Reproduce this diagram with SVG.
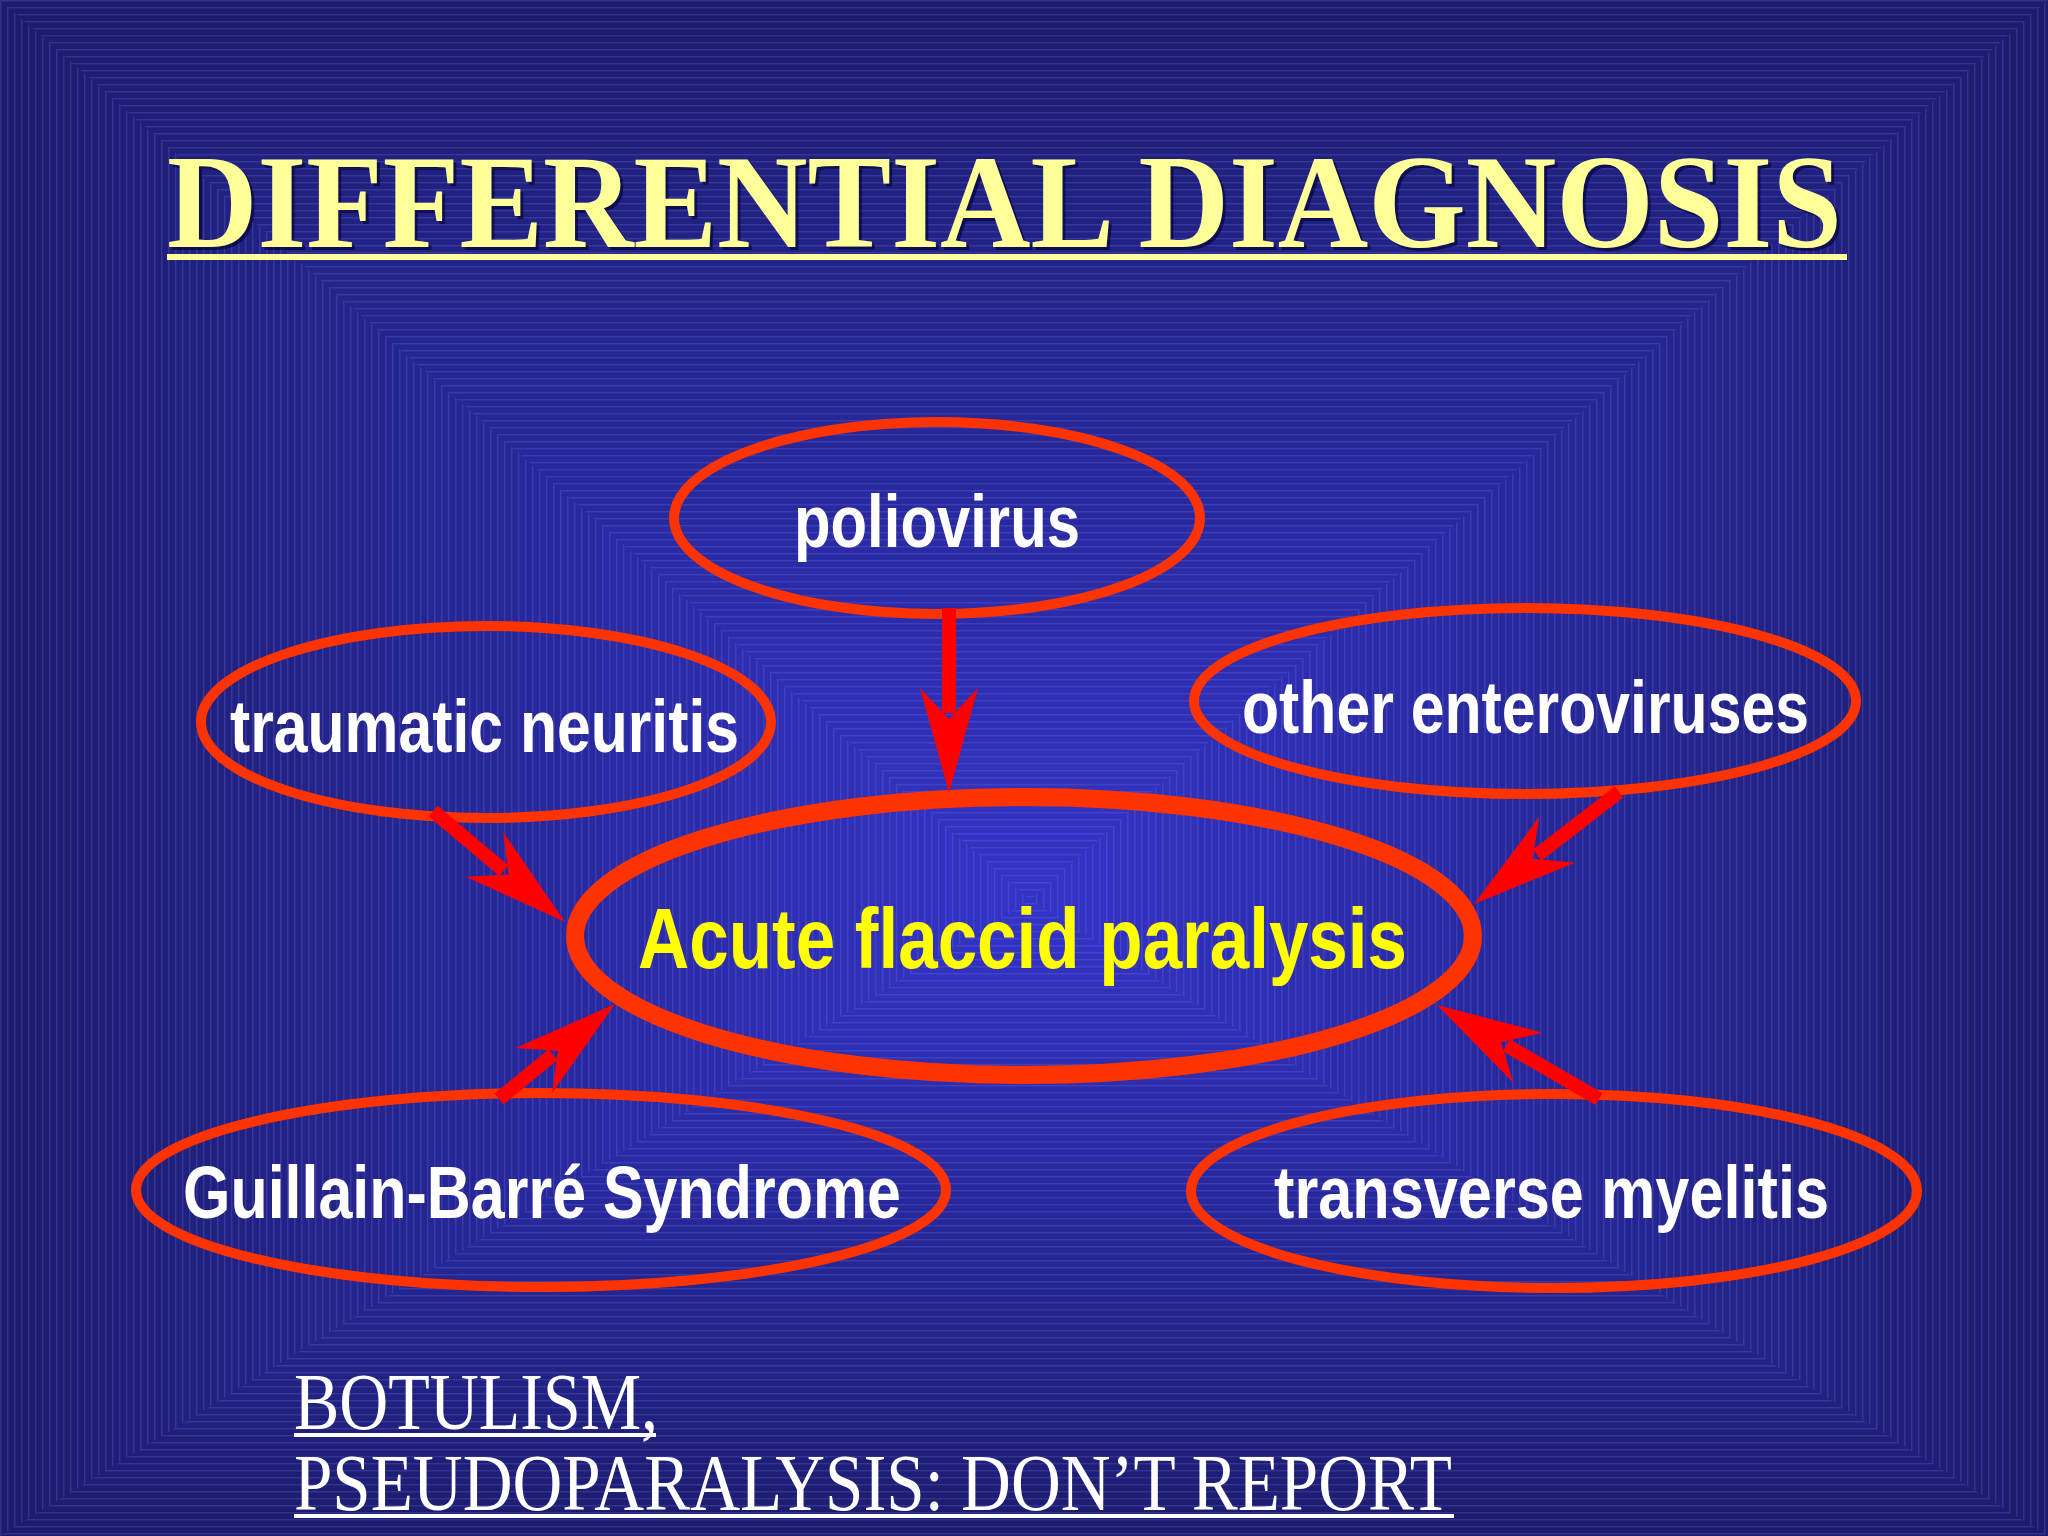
<svg xmlns="http://www.w3.org/2000/svg" width="2048" height="1536" viewBox="0 0 2048 1536">
<style>
.node{fill:none;stroke:#FF3300;stroke-width:10}
.main{fill:none;stroke:#FF3300;stroke-width:18}
.lbl{font-family:"Liberation Sans",Arial,sans-serif;font-weight:bold;font-size:75px;fill:#FFFFFF}
.conn{stroke:#FF0000;stroke-width:14;fill:none;marker-end:url(#head)}
.serif{font-family:"Liberation Serif","Times New Roman",serif}
</style>
<defs>
<marker id="head" markerUnits="userSpaceOnUse" orient="auto" refX="25" refY="0" markerWidth="110" markerHeight="64" overflow="visible">
<path d="M105,0 L0,-29 L31,0 L0,29 Z" fill="#FF0000"/>
</marker>
<pattern id="hs" patternUnits="userSpaceOnUse" width="8" height="7">
<rect x="0" y="0" width="8" height="1.4" fill="#8080ff" fill-opacity="0.22"/>
</pattern>
<pattern id="vs" patternUnits="userSpaceOnUse" width="7" height="8">
<rect x="0" y="0" width="1.4" height="8" fill="#8080ff" fill-opacity="0.22"/>
</pattern>
</defs>
<g id="background">
<rect x="0" y="0" width="2048" height="1536" fill="#1c1c6e"/>
<rect x="42.9" y="37.5" width="1962.7" height="1472" fill="#1d1d72"/>
<rect x="85.8" y="75" width="1877.3" height="1408" fill="#1e1e76"/>
<rect x="128.8" y="112.5" width="1792" height="1344" fill="#1f1f79"/>
<rect x="171.7" y="150" width="1706.7" height="1280" fill="#20207d"/>
<rect x="214.6" y="187.5" width="1621.3" height="1216" fill="#212181"/>
<rect x="257.5" y="225" width="1536" height="1152" fill="#222285"/>
<rect x="300.4" y="262.5" width="1450.7" height="1088" fill="#232388"/>
<rect x="343.3" y="300" width="1365.3" height="1024" fill="#24248c"/>
<rect x="386.3" y="337.5" width="1280" height="960" fill="#252590"/>
<rect x="429.2" y="375" width="1194.7" height="896" fill="#262694"/>
<rect x="472.1" y="412.5" width="1109.3" height="832" fill="#272797"/>
<rect x="515" y="450" width="1024" height="768" fill="#28289b"/>
<rect x="557.9" y="487.5" width="938.7" height="704" fill="#29299f"/>
<rect x="600.8" y="525" width="853.3" height="640" fill="#2a2aa3"/>
<rect x="643.8" y="562.5" width="768" height="576" fill="#2b2ba6"/>
<rect x="686.7" y="600" width="682.7" height="512" fill="#2c2caa"/>
<rect x="729.6" y="637.5" width="597.3" height="448" fill="#2d2dae"/>
<rect x="772.5" y="675" width="512" height="384" fill="#2e2eb2"/>
<rect x="815.4" y="712.5" width="426.7" height="320" fill="#2f2fb5"/>
<rect x="858.3" y="750" width="341.3" height="256" fill="#3030b9"/>
<rect x="901.3" y="787.5" width="256" height="192" fill="#3131bd"/>
<rect x="944.2" y="825" width="170.7" height="128" fill="#3232c1"/>
<rect x="987.1" y="862.5" width="85.3" height="64" fill="#3333c4"/>
<polygon points="0,0 2048,0 1030,900" fill="url(#hs)"/>
<polygon points="0,1536 2048,1536 1030,900" fill="url(#hs)"/>
<polygon points="0,0 0,1536 1030,900" fill="url(#vs)"/>
<polygon points="2048,0 2048,1536 1030,900" fill="url(#vs)"/>
</g>
<g id="title">
<text class="serif" x="170" y="250" font-size="134" font-weight="bold" fill="#000033" fill-opacity="0.6" textLength="1675" lengthAdjust="spacingAndGlyphs">DIFFERENTIAL DIAGNOSIS</text>
<text class="serif" x="167" y="247" font-size="134" font-weight="bold" fill="#FFFF99" textLength="1675" lengthAdjust="spacingAndGlyphs">DIFFERENTIAL DIAGNOSIS</text>
<rect x="167" y="254" width="1680" height="6" fill="#FFFF99"/>
</g>
<g id="node-polio">
<ellipse class="node" cx="937" cy="518" rx="263" ry="96"/>
<text class="lbl" x="794" y="547" textLength="286" lengthAdjust="spacingAndGlyphs">poliovirus</text>
</g>
<g id="node-traumatic">
<ellipse class="node" cx="486" cy="722" rx="285" ry="96"/>
<text class="lbl" x="230" y="752" textLength="509" lengthAdjust="spacingAndGlyphs">traumatic neuritis</text>
</g>
<g id="node-entero">
<ellipse class="node" cx="1525" cy="701" rx="331" ry="93"/>
<text class="lbl" x="1242" y="733" textLength="567" lengthAdjust="spacingAndGlyphs">other enteroviruses</text>
</g>
<g id="node-afp">
<ellipse class="main" cx="1024" cy="936" rx="449" ry="139"/>
<text x="638" y="968" font-family="'Liberation Sans',Arial,sans-serif" font-weight="bold" font-size="86" fill="#FFFF00" textLength="769" lengthAdjust="spacingAndGlyphs">Acute flaccid paralysis</text>
</g>
<g id="node-gbs">
<ellipse class="node" cx="541" cy="1190" rx="405" ry="97"/>
<text class="lbl" x="183" y="1218" textLength="718" lengthAdjust="spacingAndGlyphs">Guillain-Barré Syndrome</text>
</g>
<g id="node-tm">
<ellipse class="node" cx="1554" cy="1191" rx="363" ry="97"/>
<text class="lbl" x="1274" y="1218" textLength="555" lengthAdjust="spacingAndGlyphs">transverse myelitis</text>
</g>
<g id="connectors">
<path class="conn" d="M949,608 L949,713"/>
<path class="conn" d="M433,811 L503.8,870.6"/>
<path class="conn" d="M1619,792 L1537.3,855.1"/>
<path class="conn" d="M499,1099 L553.1,1054.7"/>
<path class="conn" d="M1599,1099 L1506.2,1045.2"/>
</g>
<g id="footnote">
<text class="serif" x="294" y="1429" font-size="80" fill="#FFFFFF" textLength="364" lengthAdjust="spacingAndGlyphs">BOTULISM,</text>
<rect x="294" y="1433" width="362" height="4" fill="#FFFFFF"/>
<text class="serif" x="294" y="1510" font-size="80" fill="#FFFFFF" textLength="1158" lengthAdjust="spacingAndGlyphs">PSEUDOPARALYSIS: DON’T REPORT</text>
<rect x="294" y="1514" width="1160" height="4" fill="#FFFFFF"/>
</g>
</svg>
